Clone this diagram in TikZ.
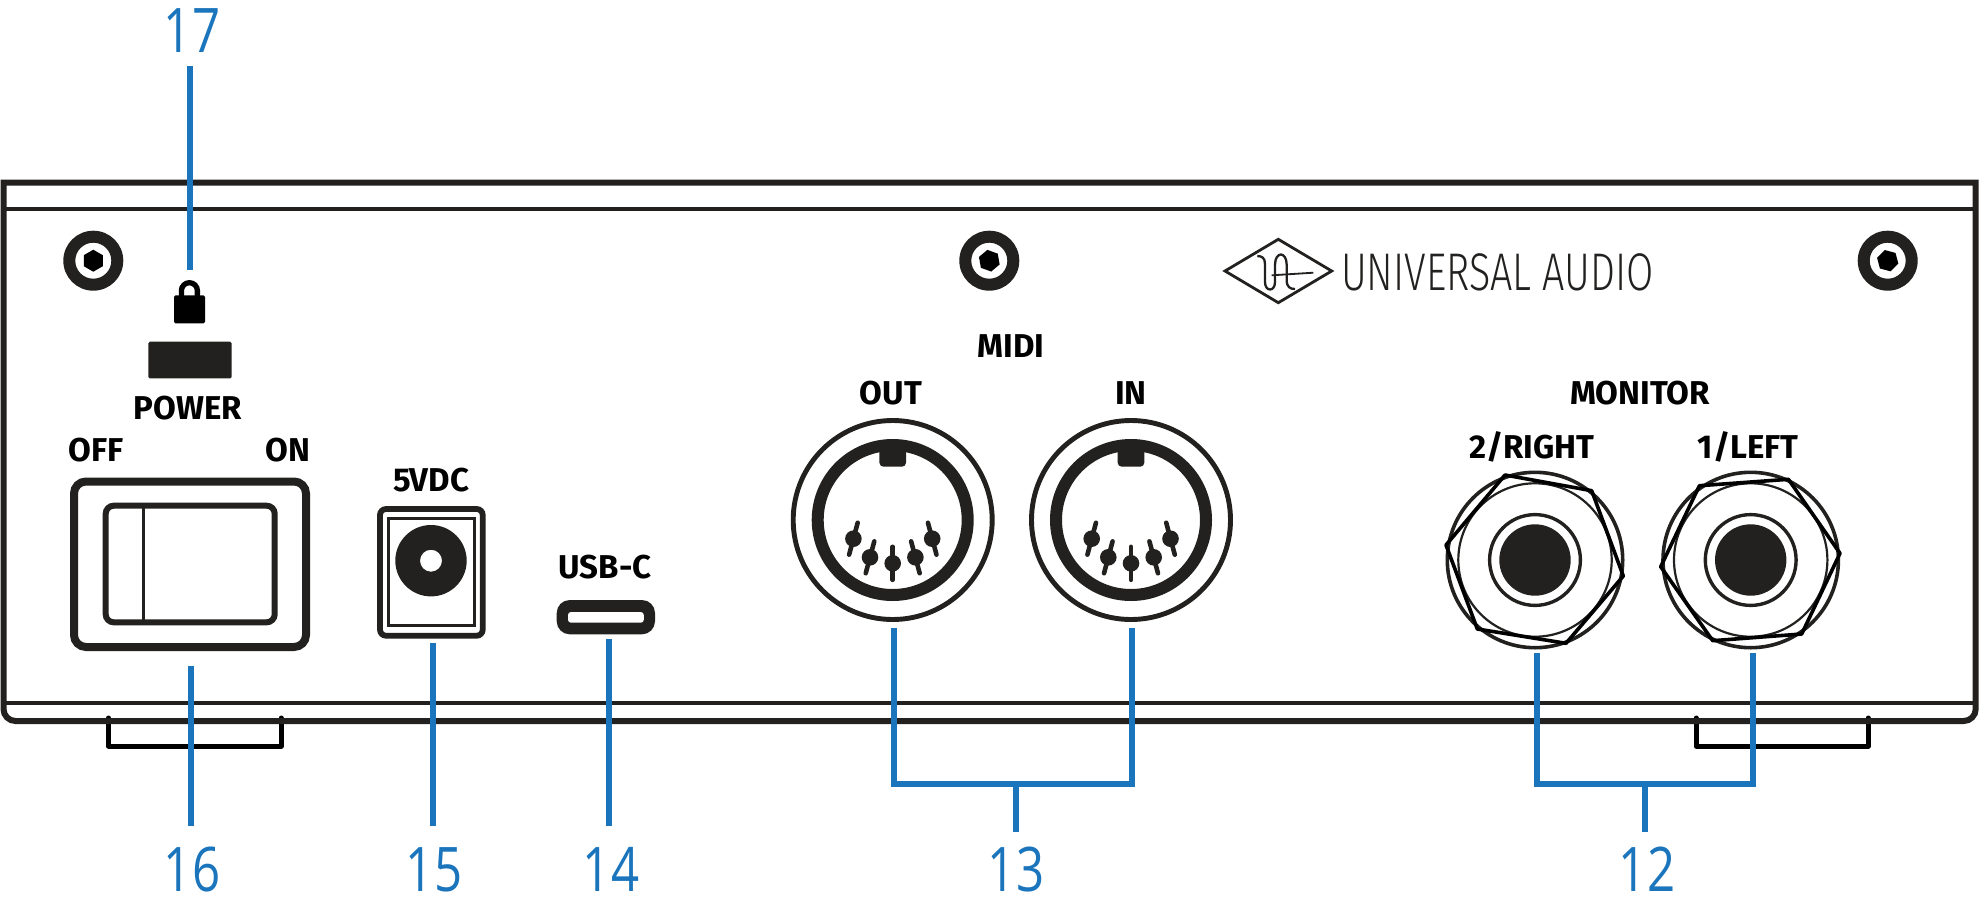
\documentclass[tikz,border=0pt]{standalone}
\usepackage{fontspec}
\setmainfont{Fira Sans}
\newfontfamily\numfont{Open Sans}
\newfontfamily\brandfont{Fira Sans Light}
\definecolor{ink}{HTML}{22211F}
\definecolor{callout}{HTML}{1B75BC}
\newcommand{\digits}[1]{\scalebox{0.8}[1]{#1}}
\tikzset{
  lbl/.style={anchor=base,inner sep=0pt,text=black,font=\fontsize{33}{33}\selectfont\bfseries},
  num/.style={anchor=base,inner sep=0pt,text=callout,font=\fontsize{61.5}{61.5}\selectfont\numfont},
  lead/.style={draw=callout,line width=6pt},
  screw/.pic={
    \fill[ink,even odd rule] (0,0) circle (30) (0,0) circle (18);
    \fill[black,rotate=\pgfkeysvalueof{/tikz/hexrot}] (30:11) -- (90:11) -- (150:11) -- (210:11) -- (270:11) -- (330:11) -- cycle;
  },
  hexrot/.initial=0,
  din/.pic={
    \draw[ink,line width=4.9pt] (0,0) circle (99.5);
    \draw[ink,line width=12pt] (0,0) circle (75);
    \fill[ink,rounded corners=4pt] (-13.3,-75) rectangle (13.3,-53.3);
    \foreach \dx/\dy/\ang in {-39.3/18.7/15,-22.7/37.3/15,0/43.3/0,22.7/37.3/-15,39.5/18.7/-15}{
      \fill[ink] (\dx,\dy) circle (8.3);
      \draw[ink,line width=4.6pt,line cap=round] (\dx,\dy) ++(90+\ang:16.5) -- ++(270+\ang:33);
    }
  },
  jackcore/.pic={
    \draw[ink,line width=3.6pt] (0,0) circle (87.7);
    \draw[ink,line width=2.2pt] (0,0) circle (76.7);
    \draw[ink,line width=3.4pt] (0,0) circle (45.4);
    \fill[ink] (0,0) circle (35.7);
  }
}
\begin{document}
\begin{tikzpicture}[x=1pt,y=-1pt]
\useasboundingbox (0,0) rectangle (1979,911);

% feet
\draw[black,line width=5pt,line cap=round,line join=round] (108.5,718) -- (108.5,746) -- (281,746) -- (281,718);
\draw[black,line width=5pt,line cap=round,line join=round] (1696,718) -- (1696,746) -- (1868,746) -- (1868,718);

% chassis
\draw[ink,line width=6pt] (3.5,182.7) -- (3.5,709) arc[start angle=180,end angle=90,radius=12]
  -- (1963.7,721) arc[start angle=90,end angle=0,radius=12] -- (1975.7,182.7) -- cycle;
\draw[ink,line width=3.8pt] (3.5,209.3) -- (1975.7,209.3);
\draw[ink,line width=3.8pt] (3.5,702.7) -- (1975.7,702.7);

% screws
\pic at (93.3,260.7) {screw};
\pic[hexrot=10] at (989.3,260.7) {screw};
\pic[hexrot=15] at (1887.7,260.7) {screw};

% lock and power indicator
\draw[black,line width=5.3pt] (181.4,298) -- (181.4,290.7) arc[start angle=180,end angle=360,radius=8] -- (197.3,298);
\fill[black,rounded corners=1.5pt] (174,295.3) rectangle (205,323.3);
\fill[ink,rounded corners=1.5pt] (148.3,341.7) rectangle (231.7,378.3);
\node[lbl] (power) at (188,419.3) {POWER};
\node[lbl] (off) at (96,461) {OFF};
\node[lbl] (on) at (288,461) {ON};

% rocker switch
\draw[ink,line width=8pt,rounded corners=12pt] (74,481.5) rectangle (306,647);
\draw[ink,line width=6pt,rounded corners=8pt] (105.7,505.7) rectangle (274.7,622.3);
\draw[ink,line width=3pt] (143.3,505.7) -- (143.3,622.3);

% 5VDC jack
\node[lbl] (vdc) at (431,491.7) {5VDC};
\draw[ink,line width=5.8pt,rounded corners=6pt] (380,509) rectangle (482.7,635.7);
\draw[ink,line width=3pt] (388.5,518) rectangle (474,625.5);
\fill[ink,even odd rule] (431,560.7) circle (35.7) (431,560.7) circle (11);

% USB-C
\node[lbl] (usb) at (605,578) {USB-C};
\fill[ink,rounded corners=13pt] (556.7,600) rectangle (655,634.3);
\fill[white,rounded corners=3pt] (568,612) rectangle (643.8,622.7);

% MIDI
\node[lbl] (midi) at (1011,357) {MIDI};
\node[lbl] (midiout) at (891,404) {OUT};
\node[lbl] (midiin) at (1131,404) {IN};
\pic at (892.7,520) {din};
\pic at (1131,520) {din};

% monitor jacks
\node[lbl] (monitor) at (1640,404) {MONITOR};
\node[lbl] (right) at (1532,458) {2/RIGHT};
\node[lbl] (left) at (1748,458) {1/LEFT};
\pic at (1535,560) {jackcore};
\pic at (1750.7,560) {jackcore};
\draw[black,line width=3.6pt,line join=round] (1505,475) -- (1591.7,490.7) -- (1623.3,576) -- (1566,643.3) -- (1477.3,629) -- (1446,545) -- cycle;
\draw[black,line width=3.6pt,line join=round] (1699.4,485.7) -- (1788.4,479.3) -- (1840,553.3) -- (1801.7,634) -- (1712.7,640.7) -- (1660.7,566.7) -- cycle;

% logo
\draw[ink,line width=2.8pt,line join=miter] (1225,271) -- (1278.3,239.3) -- (1331.7,271) -- (1278.3,302.7) -- cycle;
\draw[ink,line width=2.3pt] (1257.3,256) .. controls (1262,256) and (1265,258) .. (1265,264) -- (1265,282)
  .. controls (1265,292) and (1275,292) .. (1275,282) -- (1275,265)
  .. controls (1275,251) and (1286.7,251) .. (1286.7,265) -- (1286.7,280)
  .. controls (1286.7,287) and (1290,289) .. (1295,289);
\draw[ink,line width=1.8pt] (1271.7,275.3) -- (1313.3,272.7);
\node[anchor=base west,inner sep=0pt,text=ink,font=\fontsize{53}{53}\selectfont\brandfont] (brand) at (1341,290) {\scalebox{0.745}[1]{UNIVERSAL AUDIO}};

% callout numbers
\node[num] (n17) at (192,52) {\digits{17}};
\node[num] (n16) at (192,891) {\digits{16}};
\node[num] (n15) at (434,891) {\digits{15}};
\node[num] (n14) at (611,891) {\digits{14}};
\node[num] (n13) at (1016,891) {\digits{13}};
\node[num] (n12) at (1647,891) {\digits{12}};

% callout leaders
\coordinate (t17a) at (189.7,66);
\coordinate (t17b) at (189.7,270);
\draw[lead] (t17a) -- (t17b);
\coordinate (t16a) at (191,666);
\coordinate (t16b) at (191,826);
\draw[lead] (t16a) -- (t16b);
\coordinate (t15a) at (432.6,643);
\coordinate (t15b) at (432.6,826);
\draw[lead] (t15a) -- (t15b);
\coordinate (t14a) at (608.5,639);
\coordinate (t14b) at (608.5,826);
\draw[lead] (t14a) -- (t14b);
\coordinate (m1) at (894.3,627.7);
\coordinate (m2) at (1132.3,627.7);
\coordinate (mc) at (1016,784);
\coordinate (me) at (1016,831.7);
\draw[lead,line join=miter] (m1) -- (m1 |- mc) -- (m2 |- mc) -- (m2);
\draw[lead] (mc) -- (me);
\coordinate (j1) at (1537,652.7);
\coordinate (j2) at (1752.7,652.7);
\coordinate (jc) at (1644.5,784);
\coordinate (je) at (1644.5,831.7);
\draw[lead,line join=miter] (j1) -- (j1 |- jc) -- (j2 |- jc) -- (j2);
\draw[lead] (jc) -- (je);
\end{tikzpicture}
\end{document}
